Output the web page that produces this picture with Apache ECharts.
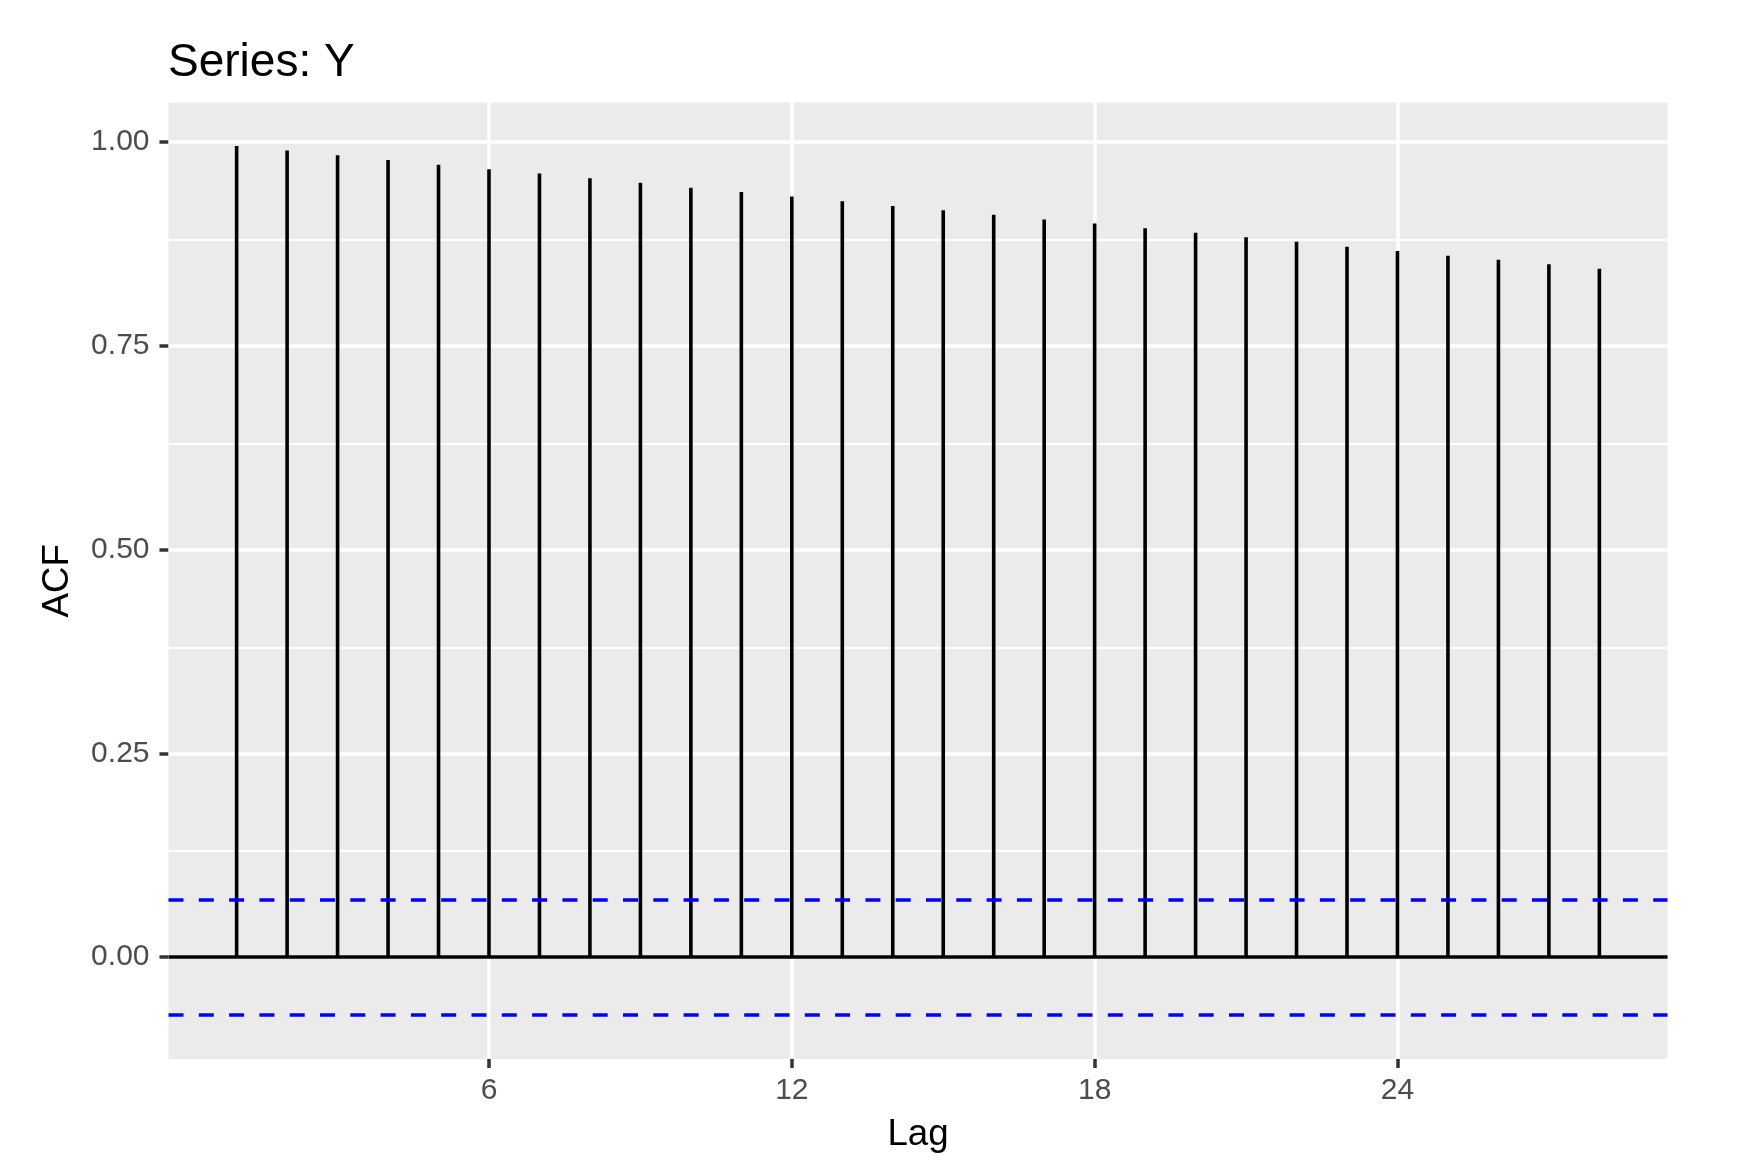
<!DOCTYPE html>
<html>
<head>
<meta charset="utf-8">
<script src="https://cdn.jsdelivr.net/npm/echarts@6/dist/echarts.min.js"></script>
<style>
html,body{margin:0;padding:0;background:#fff;}
#chart{width:1764px;height:1176px;}
</style>
</head>
<body>
<div id="chart"></div>
<script>
// ---- data ----
const lags = [1,2,3,4,5,6,7,8,9,10,11,12,13,14,15,16,17,18,19,20,21,22,23,24,25,26,27,28];
const acfValues = [0.9947,0.9890,0.9832,0.9775,0.9718,0.9661,0.9608,0.9550,0.9497,0.9436,
                   0.9383,0.9326,0.9268,0.9211,0.9158,0.9105,0.9044,0.8995,0.8937,0.8884,
                   0.8827,0.8774,0.8712,0.8660,0.8602,0.8553,0.8496,0.8443];
const ciBound = 0.0715;
const xTicks = [6,12,18,24];
const yTicks = [0,0.25,0.5,0.75,1.0];
const yMinor = [0.125,0.375,0.625,0.875];
const titleText = 'Series: Y';
const xName = 'Lag';
const yName = 'ACF';

// ---- chart ----
const FONT = "'Liberation Sans', Arial, Helvetica, sans-serif";
const chart = echarts.init(document.getElementById('chart'), null, {renderer:'canvas'});

const stemData = lags.map((l,i) => [l, acfValues[i]]);

const gridLines = [];
xTicks.forEach(v => gridLines.push({xAxis: v, lineStyle:{color:'#ffffff', width:3.5, type:'solid'}}));
yMinor.forEach(v => gridLines.push({yAxis: v, lineStyle:{color:'#ffffff', width:1.8, type:'solid'}}));
yTicks.forEach(v => gridLines.push({yAxis: v, lineStyle:{color:'#ffffff', width:3.5, type:'solid'}}));

const option = {
  animation: false,
  backgroundColor: '#ffffff',
  title: {
    text: titleText,
    left: 168,
    top: 40,
    padding: 0,
    textStyle: {fontFamily: FONT, fontSize: 46, fontWeight: 'normal', color: '#000000'}
  },
  grid: {
    left: 168.5, right: 96.5, top: 102.5, bottom: 117,
    show: true, backgroundColor: '#EBEBEB', borderWidth: 0
  },
  xAxis: {
    type: 'value',
    min: -0.35, max: 29.35,
    name: xName,
    nameLocation: 'middle',
    nameGap: 57,
    nameTextStyle: {fontFamily: FONT, fontSize: 36.7, color: '#000000'},
    axisLine: {show: false, onZero: false},
    axisTick: {show: true, inside: false, length: 9, customValues: xTicks, lineStyle: {color: '#333333', width: 3.5}},
    axisLabel: {show: true, customValues: xTicks, margin: 17, fontFamily: FONT, fontSize: 30, color: '#4D4D4D',
                formatter: v => String(v)},
    splitLine: {show: false}
  },
  yAxis: {
    type: 'value',
    min: -0.1248, max: 1.048,
    name: yName,
    nameLocation: 'middle',
    nameGap: 92,
    nameRotate: 90,
    nameTextStyle: {fontFamily: FONT, fontSize: 36.7, color: '#000000'},
    axisLine: {show: false, onZero: false},
    axisTick: {show: true, inside: false, length: 9, customValues: yTicks, lineStyle: {color: '#333333', width: 3.5}},
    axisLabel: {show: true, customValues: yTicks, margin: 19, fontFamily: FONT, fontSize: 30, color: '#4D4D4D',
                formatter: v => Number(v).toFixed(2)},
    splitLine: {show: false}
  },
  series: [
    {
      name: 'grid',
      type: 'line',
      data: [],
      z: 1,
      silent: true,
      markLine: {
        z: 1,
        silent: true,
        animation: false,
        symbol: ['none','none'],
        label: {show: false},
        emphasis: {disabled: true},
        data: gridLines
      }
    },
    {
      name: 'ACF',
      type: 'bar',
      data: stemData,
      barWidth: 3.6,
      z: 2,
      silent: true,
      itemStyle: {color: '#000000'},
      markLine: {
        z: 5,
        silent: true,
        animation: false,
        symbol: ['none','none'],
        label: {show: false},
        emphasis: {disabled: true},
        data: [
          {yAxis: 0, lineStyle: {color: '#000000', width: 3.6, type: 'solid'}},
          {yAxis: ciBound, lineStyle: {color: '#0000FF', width: 3.6, type: [15, 15.3], dashOffset: 0}},
          {yAxis: -ciBound, lineStyle: {color: '#0000FF', width: 3.6, type: [15, 15.3], dashOffset: 0}}
        ]
      }
    }
  ]
};
chart.setOption(option);
</script>
</body>
</html>
